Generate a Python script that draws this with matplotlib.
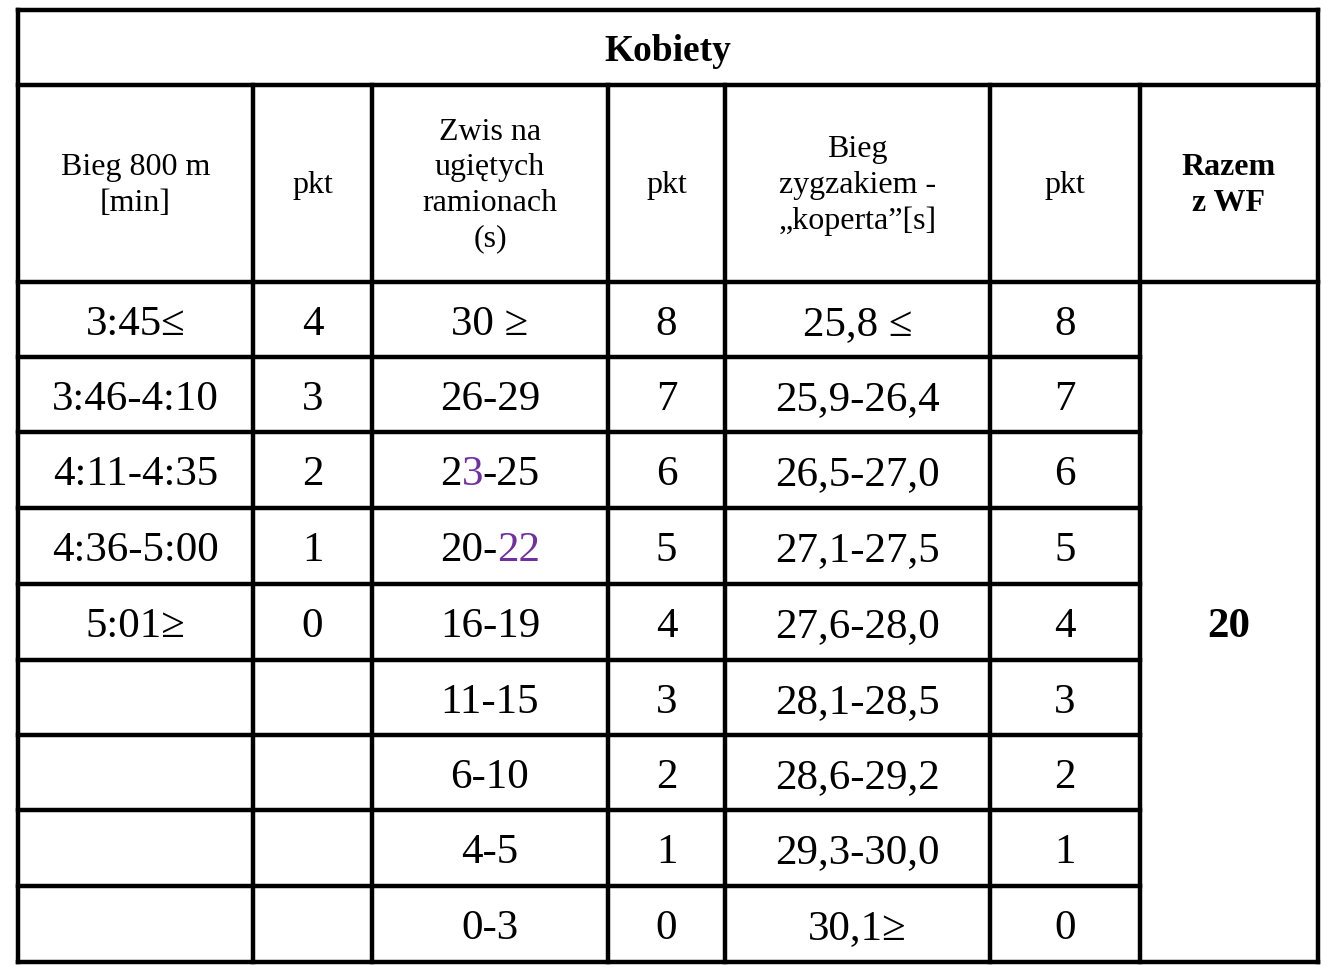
import matplotlib.pyplot as plt

plt.rcParams['font.family'] = ['Liberation Serif', 'DejaVu Serif']

title = "Kobiety"
headers = ["Bieg 800 m\n[min]", "pkt", "Zwis na\nugiętych\nramionach\n(s)", "pkt",
           "Bieg\nzygzakiem -\n„koperta”[s]", "pkt", "Razem\nz WF"]
run_800 = ["3:45≤", "3:46-4:10", "4:11-4:35", "4:36-5:00", "5:01≥", "", "", "", ""]
run_pts = ["4", "3", "2", "1", "0", "", "", "", ""]
hang = ["30 ≥", "26-29", "23-25", "20-22", "16-19", "11-15", "6-10", "4-5", "0-3"]
hang_pts = ["8", "7", "6", "5", "4", "3", "2", "1", "0"]
zigzag = ["25,8 ≤", "25,9-26,4", "26,5-27,0", "27,1-27,5", "27,6-28,0",
          "28,1-28,5", "28,6-29,2", "29,3-30,0", "30,1≥"]
zigzag_pts = ["8", "7", "6", "5", "4", "3", "2", "1", "0"]
total = "20"
# parts of hang values printed in purple: (row, [(text, colour), ...])
purple = "#7030a0"
coloured = {2: [("2", "black"), ("3", purple), ("-25", "black")],
            3: [("20-", "black"), ("22", purple)]}

col_x = [18, 253, 372, 608, 725, 990, 1140, 1318]
row_y = [282, 357, 432, 508, 584, 660, 735, 810, 886, 962]
top, head_y = 10, 85

fig = plt.figure(figsize=(13.34, 9.75), dpi=100)
ax = fig.add_axes([0, 0, 1, 1])
ax.set_xlim(0, 1334)
ax.set_ylim(975, 0)
ax.axis("off")

lw = 3.2
kw = dict(color="black", lw=lw, solid_capstyle="projecting")
ax.plot([col_x[0], col_x[-1]], [top, top], **kw)
ax.plot([col_x[0], col_x[-1]], [head_y, head_y], **kw)
ax.plot([col_x[0], col_x[-1]], [row_y[0], row_y[0]], **kw)
ax.plot([col_x[0], col_x[-1]], [row_y[-1], row_y[-1]], **kw)
for y in row_y[1:-1]:
    ax.plot([col_x[0], col_x[-2]], [y, y], **kw)
ax.plot([col_x[0], col_x[0]], [top, row_y[-1]], **kw)
ax.plot([col_x[-1], col_x[-1]], [top, row_y[-1]], **kw)
for x in col_x[1:-1]:
    ax.plot([x, x], [head_y, row_y[-1]], **kw)

ax.text((col_x[0] + col_x[-1]) / 2, (top + head_y) / 2 + 4, title,
        fontsize=27, fontweight="bold", ha="center", va="center")

for i, h in enumerate(headers):
    cx = (col_x[i] + col_x[i + 1]) / 2
    bold = i == len(headers) - 1
    ax.text(cx, (head_y + row_y[0]) / 2 + 2, h, fontsize=23, ha="center", va="center",
            linespacing=1.3, fontweight="bold" if bold else "normal")

columns = [run_800, run_pts, hang, hang_pts, zigzag, zigzag_pts]
fig.canvas.draw()
renderer = fig.canvas.get_renderer()
for c, vals in enumerate(columns):
    cx = (col_x[c] + col_x[c + 1]) / 2
    for r, v in enumerate(vals):
        cy = (row_y[r] + row_y[r + 1]) / 2 + 5
        if c == 2 and r in coloured:
            parts = coloured[r]
            texts = [ax.text(0, cy, p, fontsize=31, color=col, va="center")
                     for p, col in parts]
            widths = [t.get_window_extent(renderer).width for t in texts]
            x = cx - sum(widths) / 2
            for t, w in zip(texts, widths):
                t.set_x(x)
                x += w
        elif v:
            ax.text(cx, cy, v, fontsize=31, ha="center", va="center")

ax.text((col_x[-2] + col_x[-1]) / 2, (row_y[0] + row_y[-1]) / 2 + 5, total,
        fontsize=31, fontweight="bold", ha="center", va="center")

fig.savefig("out.png", dpi=100)
